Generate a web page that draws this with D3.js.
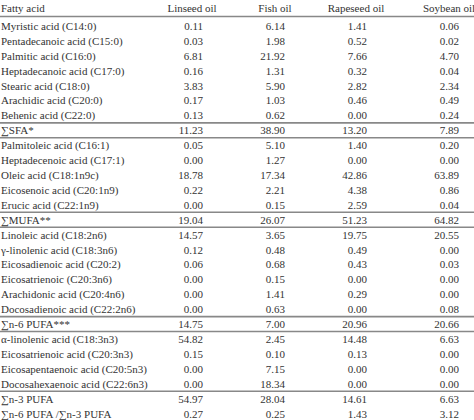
<!DOCTYPE html>
<html><head><meta charset="utf-8">
<script src="https://cdn.jsdelivr.net/npm/d3@7"></script>
<style>body{margin:0;background:#fff}text{font-family:"Liberation Serif","DejaVu Serif",serif;font-size:11px;fill:#333}</style>
</head><body><svg width="474" height="420"></svg>
<script>
// table data
const columns = ['Linseed oil', 'Fish oil', 'Rapeseed oil', 'Soybean oil']
const labels = [
  'Myristic acid (C14:0)', 'Pentadecanoic acid (C15:0)', 'Palmitic acid (C16:0)', 'Heptadecanoic acid (C17:0)',
  'Stearic acid (C18:0)', 'Arachidic acid (C20:0)', 'Behenic acid (C22:0)', '∑SFA*',
  'Palmitoleic acid (C16:1)', 'Heptadecenoic acid (C17:1)', 'Oleic acid (C18:1n9c)', 'Eicosenoic acid (C20:1n9)',
  'Erucic acid (C22:1n9)', '∑MUFA**',
  'Linoleic acid (C18:2n6)', 'γ-linolenic acid (C18:3n6)', 'Eicosadienoic acid (C20:2)', 'Eicosatrienoic (C20:3n6)',
  'Arachidonic acid (C20:4n6)', 'Docosadienoic acid (C22:2n6)', '∑n-6 PUFA***',
  'α-linolenic acid (C18:3n3)', 'Eicosatrienoic  acid (C20:3n3)', 'Eicosapentaenoic acid (C20:5n3)',
  'Docosahexaenoic acid (C22:6n3)', '∑n-3 PUFA', '∑n-6 PUFA /∑n-3 PUFA'
]
const linseed = ['0.11','0.03','6.81','0.16','3.83','0.17','0.13','11.23','0.05','0.00','18.78','0.22','0.00','19.04',
  '14.57','0.12','0.06','0.00','0.00','0.00','14.75','54.82','0.15','0.00','0.00','54.97','0.27']
const fish = ['6.14','1.98','21.92','1.31','5.90','1.03','0.62','38.90','5.10','1.27','17.34','2.21','0.15','26.07',
  '3.65','0.48','0.68','0.15','1.41','0.63','7.00','2.45','0.10','7.15','18.34','28.04','0.25']
const rapeseed = ['1.41','0.52','7.66','0.32','2.82','0.46','0.00','13.20','1.40','0.00','42.86','4.38','2.59','51.23',
  '19.75','0.49','0.43','0.00','0.29','0.00','20.96','14.48','0.13','0.00','0.00','14.61','1.43']
const soybean = ['0.06','0.02','4.70','0.04','2.34','0.49','0.24','7.89','0.20','0.00','63.89','0.86','0.04','64.82',
  '20.55','0.00','0.03','0.00','0.00','0.08','20.66','6.63','0.00','0.00','0.00','6.63','3.12']
const sumRows = [7, 13, 20, 25]

const series = [linseed, fish, rapeseed, soybean]
const svg = d3.select('svg')

const y = d3.scaleBand().domain(d3.range(labels.length)).range([18.5, 421]).padding(0)
const xCenter = d3.scaleOrdinal().domain(columns).range([192, 275, 356, 449])
const xRight = d3.scaleOrdinal().domain(columns).range([203, 285, 367, 459])

// header
svg.append('text').attr('x', 1).attr('y', 12).text('Fatty acid')
svg.selectAll('.head').data(columns).enter().append('text')
   .attr('x', d => xCenter(d)).attr('y', 12).attr('text-anchor', 'middle').text(d => d)

// rules
const rules = [16.5]
sumRows.forEach(i => {
  rules.push(y(i))
  if (i !== 25) rules.push(y(i) + y.bandwidth())
})
svg.selectAll('line').data(rules).enter().append('line')
   .attr('x1', 0).attr('x2', 474).attr('y1', d => d).attr('y2', d => d)
   .attr('stroke', '#888').attr('stroke-width', 1.6)

// rows
const rows = svg.selectAll('.row').data(labels).enter().append('g')
   .attr('transform', (d, i) => `translate(0,${y(i) + y.bandwidth() / 2 + 4})`)
rows.append('text').attr('x', 1).text(d => d)
columns.forEach((c, j) => {
  rows.append('text').attr('x', xRight(c)).attr('text-anchor', 'end').text((d, i) => series[j][i])
})
</script></body></html>
